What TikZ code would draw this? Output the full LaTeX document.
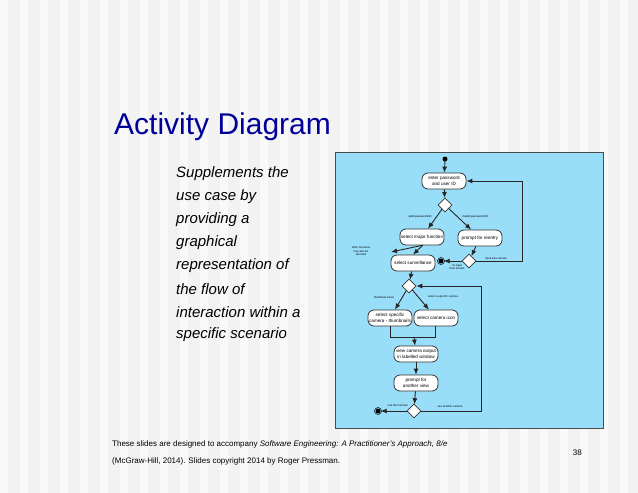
\documentclass[tikz,border=0pt]{standalone}
\usepackage{fontspec}
\setmainfont{Liberation Sans}
\usetikzlibrary{shapes.geometric,arrows.meta}
\begin{document}
\begin{tikzpicture}[x=1pt,y=-1pt,
  act/.style={draw=black!80,line width=0.8pt,fill=white,rounded corners=6pt,minimum width=44pt,minimum height=16pt,inner sep=0.5pt,font=\fontsize{4.6}{5.4}\selectfont,align=center},
  dec/.style={draw=black!80,line width=0.6pt,fill=white,diamond,minimum size=14pt,inner sep=0pt},
  flow/.style={line width=0.9pt,draw=black!85,-{Latex[length=6pt,width=5pt]}},
  lbl/.style={font=\fontsize{2.8}{3.2}\selectfont,inner sep=0.5pt,align=center},
  body/.style={font=\fontsize{15}{18}\selectfont\itshape,anchor=west,inner sep=0pt}]
\useasboundingbox (0,0) rectangle (638,493);
\fill[gray!10] (0,0) rectangle (638,493);
\foreach \x in {0,20,...,620}{\fill[white,opacity=0.6] (\x,0) rectangle (\x+8,493);}
\node[anchor=west,text=blue!60!black,font=\fontsize{30}{32}\selectfont,inner sep=0pt] (title) at (114,127) {Activity Diagram};
\node[body] (t1) at (176,174) {Supplements the};
\node[body] (t2) at (176,197) {use case by};
\node[body] (t3) at (176,220) {providing a};
\node[body] (t4) at (176,243) {graphical};
\node[body] (t5) at (176,266) {representation of};
\node[body] (t6) at (176,289) {the flow of};
\node[body] (t7) at (176,312) {interaction within a};
\node[body] (t8) at (176,335) {specific scenario};
\node[anchor=west,font=\fontsize{8}{10}\selectfont,inner sep=0pt] (f1) at (112,444) {These slides are designed to accompany \textit{Software Engineering: A Practitioner's Approach, 8/e}};
\node[anchor=west,font=\fontsize{8}{10}\selectfont,inner sep=0pt] (f2) at (112,461) {(McGraw-Hill, 2014). Slides copyright 2014 by Roger Pressman.};
\node[anchor=east,font=\fontsize{8}{10}\selectfont,inner sep=0pt] (pg) at (582,453) {38};
% panel
\draw[fill=cyan!40!white,draw=black!70,line width=0.7pt] (335,152) rectangle (603,428);
\fill[black] (445,159) circle (2.5pt);
\coordinate (s) at (445,160);
\node[act] (enter) at (444,181) {enter password\\and user ID};
\node[dec] (d1) at (445,205) {};
\node[act] (major) at (422,237) {select major function};
\node[act] (reentry) at (480,238) {prompt for reentry};
\node[dec] (d2) at (469,261) {};
\node[act] (surv) at (413,263) {select surveillance};
\node[circle,fill=black,inner sep=0pt,minimum size=5pt] (end1) at (441,261) {};
\draw[black,line width=0.5pt] (end1) circle (3.5pt);
\node[dec] (d3) at (409,286) {};
\node[act] (thumb) at (390,318) {select specific\\camera - thumbnails};
\node[act] (icon) at (436,318) {select camera icon};
\node[act] (view) at (416,354) {view camera output\\in labelled window};
\node[act] (another) at (416,383) {prompt for\\another view};
\node[dec] (d4) at (414,411) {};
\node[circle,fill=black,inner sep=0pt,minimum size=5pt] (end2) at (378,411) {};
\draw[black,line width=0.5pt] (end2) circle (3.5pt);
\coordinate (other) at (391,252);
\draw[flow] (s) -- (enter);
\draw[flow] (enter) -- (d1);
\draw[flow] (d1) -- (major);
\draw[flow] (d1) -- (reentry);
\draw[flow] (reentry) -- (d2);
\draw[flow] (d2) -- (end1);
\draw[flow] (d2.east) -- (522,261) -- (522,181) -- (enter.east);
\draw[flow] (major.south) -- (other);
\draw[flow] (423,245) -- (surv.north);
\draw[flow] (surv) -- (d3);
\draw[flow] (d3) -- (thumb);
\draw[flow] (d3) -- (icon);
\draw[line width=0.9pt,draw=black!85] (390,326) -- (390,337) -- (435,337) -- (435,326);
\draw[flow] (414,337) -- (view);
\draw[flow] (view) -- (another);
\draw[flow] (another) -- (d4);
\draw[flow] (d4) -- (end2);
\draw[flow] (d4.east) -- (481,411) -- (481,286) -- (d3.east);
\node[lbl] (l1) at (420,217) {valid passwords/ID};
\node[lbl] (l2) at (475,217) {invalid passwords/ID};
\node[lbl] (l3) at (361,251) {other functions\\may also be\\selected};
\node[lbl] (l4) at (496,259) {input tries remain};
\node[lbl] (l5) at (457,267) {no input\\tries remain};
\node[lbl] (l6) at (384,297) {thumbnail views};
\node[lbl] (l7) at (443,297) {select a specific camera};
\node[lbl] (l8) at (398,405) {exit this function};
\node[lbl] (l9) at (450,406) {see another camera};
\end{tikzpicture}
\end{document}
